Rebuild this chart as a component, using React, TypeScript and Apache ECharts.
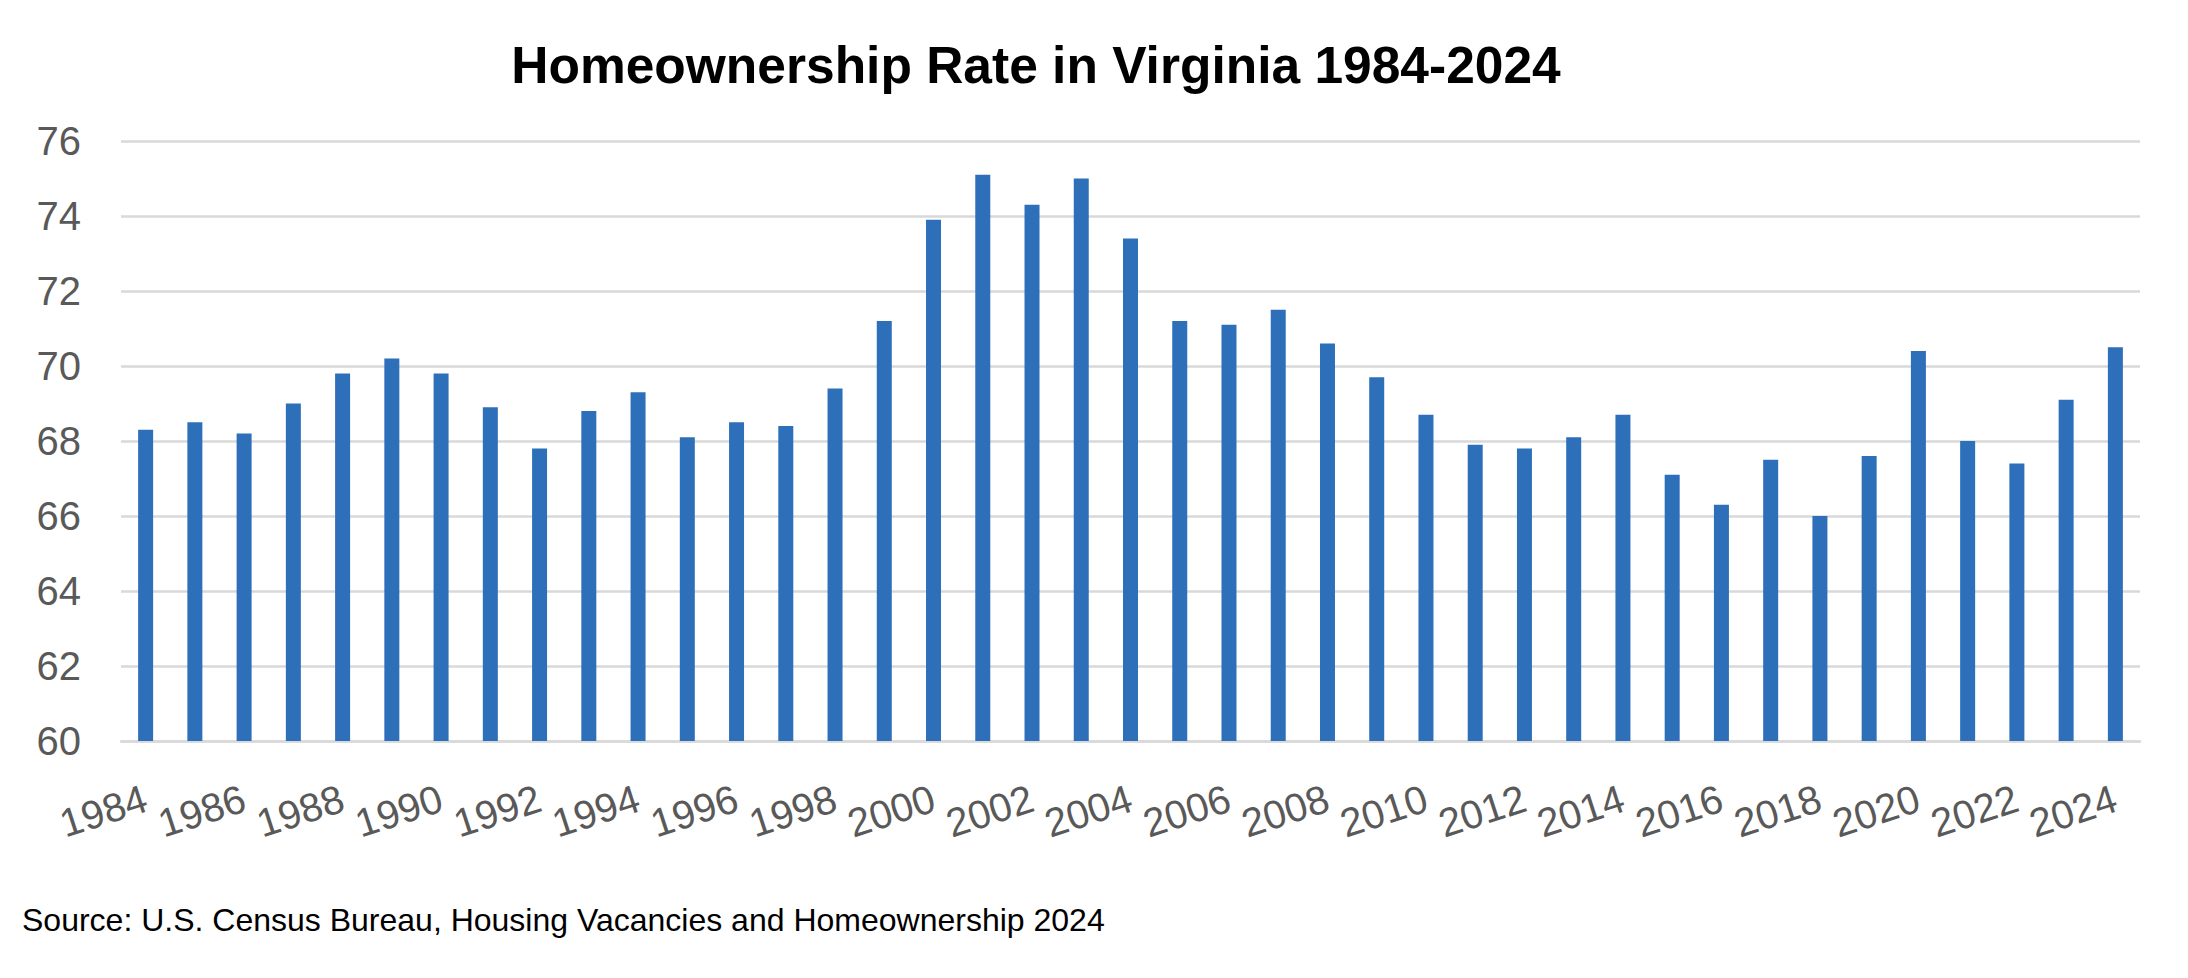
import React, { useEffect, useRef } from "react";
import * as echarts from "echarts";

const years: string[] = [
  "1984", "1985", "1986", "1987", "1988", "1989", "1990", "1991", "1992", "1993",
  "1994", "1995", "1996", "1997", "1998", "1999", "2000", "2001", "2002", "2003",
  "2004", "2005", "2006", "2007", "2008", "2009", "2010", "2011", "2012", "2013",
  "2014", "2015", "2016", "2017", "2018", "2019", "2020", "2021", "2022", "2023",
  "2024",
];

const rates: number[] = [
  68.3, 68.5, 68.2, 69.0, 69.8, 70.2, 69.8, 68.9, 67.8, 68.8,
  69.3, 68.1, 68.5, 68.4, 69.4, 71.2, 73.9, 75.1, 74.3, 75.0,
  73.4, 71.2, 71.1, 71.5, 70.6, 69.7, 68.7, 67.9, 67.8, 68.1,
  68.7, 67.1, 66.3, 67.5, 66.0, 67.6, 70.4, 68.0, 67.4, 69.1,
  70.5,
];

const titleText = "Homeownership Rate in Virginia 1984-2024";
const sourceText = "Source: U.S. Census Bureau, Housing Vacancies and Homeownership 2024";

const FONT = "'Liberation Sans', Arial, sans-serif";

export default function App() {
  const ref = useRef<HTMLDivElement>(null);

  useEffect(() => {
    if (!ref.current) return;
    const chart = echarts.init(ref.current, null, { renderer: "svg" });
    chart.setOption({
      animation: false,
      backgroundColor: "#ffffff",
      title: {
        text: titleText,
        left: 1031,
        top: 34,
        textAlign: "center",
        textStyle: {
          fontFamily: FONT,
          fontWeight: "bold",
          fontSize: 51.5,
          color: "#000000",
        },
      },
      grid: {
        left: 121,
        right: 48,
        top: 141,
        bottom: 237,
        containLabel: false,
      },
      xAxis: {
        type: "category",
        data: years,
        axisLine: { show: true, lineStyle: { color: "#d9d9d9", width: 2.5 } },
        axisTick: { show: false },
        axisLabel: {
          interval: 1,
          rotate: 18,
          margin: 56,
          fontFamily: FONT,
          fontSize: 40,
          color: "#595959",
        },
        splitLine: { show: false },
      },
      yAxis: {
        type: "value",
        min: 60,
        max: 76,
        interval: 2,
        axisLine: { show: false },
        axisTick: { show: false },
        axisLabel: {
          margin: 40,
          fontFamily: FONT,
          fontSize: 40,
          color: "#595959",
        },
        splitLine: { show: true, lineStyle: { color: "#d9d9d9", width: 2.5 } },
      },
      series: [
        {
          type: "bar",
          data: rates,
          barWidth: 15,
          itemStyle: { color: "#2e6fba" },
        },
      ],
      graphic: [
        {
          type: "text",
          left: 22,
          top: 904,
          style: {
            text: sourceText,
            fontFamily: FONT,
            fontSize: 32,
            fill: "#000000",
          },
        },
      ],
    });
    return () => chart.dispose();
  }, []);

  return (
    <div
      ref={ref}
      style={{ position: "fixed", left: 0, top: 0, width: "2188px", height: "978px" }}
    />
  );
}
